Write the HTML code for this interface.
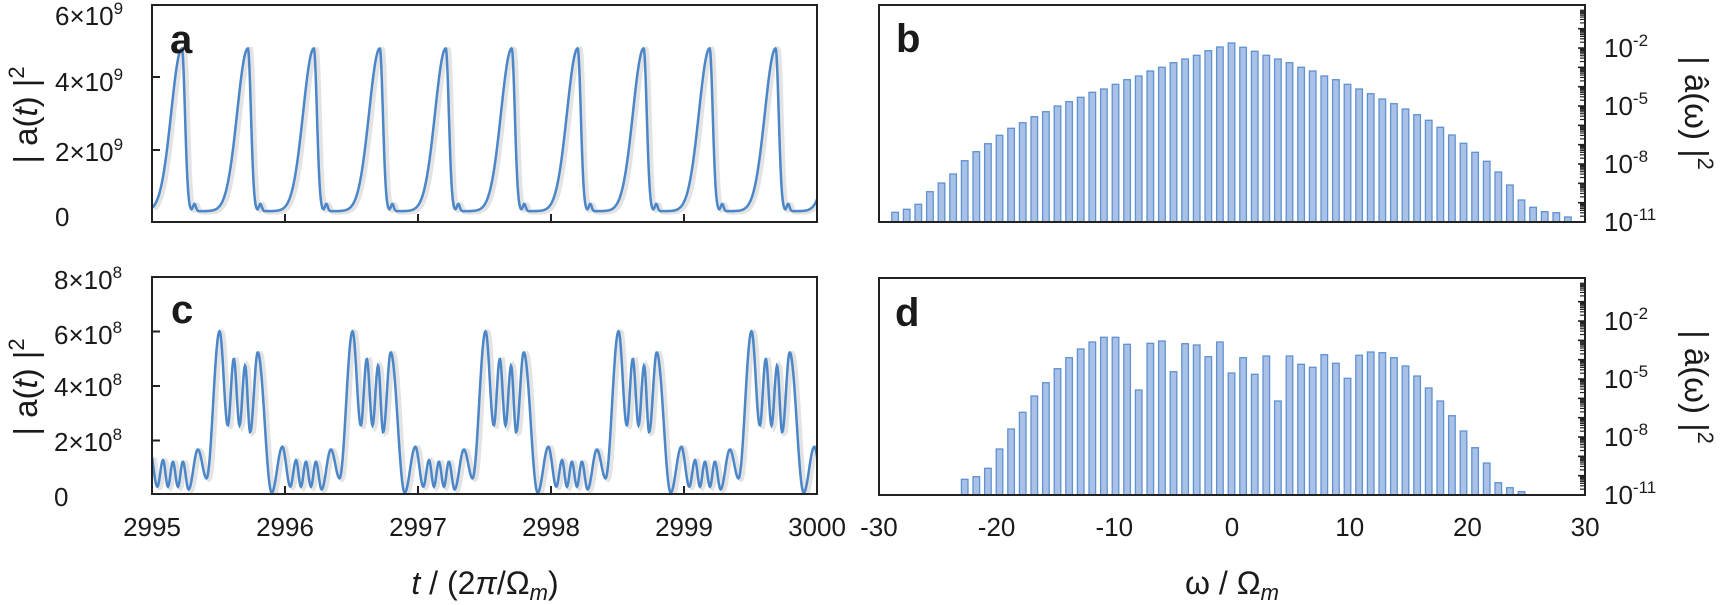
<!DOCTYPE html>
<html><head><meta charset="utf-8"><style>
html,body{margin:0;padding:0;background:#fff;}
svg{display:block;font-family:"Liberation Sans",sans-serif;}
</style></head><body>
<svg id="s" width="1720" height="605" viewBox="0 0 1720 605" xmlns="http://www.w3.org/2000/svg"></svg>
<script>
var S=document.getElementById('s'),h='';
function T(x,y,txt,o){o=o||{};h+='<text x="'+x+'" y="'+y+'" font-size="'+(o.fs||26)+'"'+(o.a?' text-anchor="'+o.a+'"':'')+(o.w?' font-weight="bold"':'')+(o.tr?' transform="'+o.tr+'"':'')+' fill="#1a1a1a">'+txt+'</text>';}
function L(x1,y1,x2,y2,w){h+='<line x1="'+x1+'" y1="'+y1+'" x2="'+x2+'" y2="'+y2+'" stroke="#222" stroke-width="'+(w||2)+'"/>';}
var SUP=function(s){return '<tspan font-size="17" dy="-11">'+s+'</tspan>';};
function va(t){var P=0.496,t0=2995.225;var f=((t-t0)/P)%1;if(f<0)f+=1;var d=f,dr=1-f;
 return 0.3+4.5*Math.max(Math.exp(-Math.pow(dr/0.23,2)),Math.exp(-Math.pow(d/0.065,2)))+0.2*Math.exp(-Math.pow((d-0.19)/0.03,2));}
function path(fn,y0,scale){var p='';for(var i=0;i<=1330;i++){var t=2995+i/266;var x=152+(t-2995)*133;var y=y0-fn(t)*scale;p+=(i?'L':'M')+x.toFixed(1)+' '+y.toFixed(1);}return p;}
var tpl=[[-0.1,0.05],[-0.02,1.74],[0.04,0.27],[0.083,1.25],[0.12,0.27],[0.157,1.19],[0.195,0.27],[0.232,1.19],[0.275,0.17],[0.345,1.64],[0.41,0.58],[0.508,6.0],[0.57,2.53],[0.615,4.98],[0.658,2.53],[0.70,4.73],[0.738,2.28],[0.795,5.22]];
var ex=[];for(var k=-1;k<=6;k++)tpl.forEach(function(p){ex.push([2995+k+p[0],p[1]]);});
function vc(t){for(var i=0;i<ex.length-1;i++){if(t>=ex[i][0]&&t<=ex[i+1][0]){var u=(t-ex[i][0])/(ex[i+1][0]-ex[i][0]);u=(1-Math.cos(Math.PI*u))/2;return ex[i][1]+(ex[i+1][1]-ex[i][1])*u;}}return 0;}
var pa=path(va,222,217/6),pc=path(vc,494,217/8);
h+='<defs><clipPath id="ca"><rect x="152" y="5" width="665" height="217"/></clipPath><clipPath id="cc"><rect x="152" y="277" width="665" height="217"/></clipPath></defs>';
[[pa,'ca'],[pc,'cc']].forEach(function(q){
 h+='<g clip-path="url(#'+q[1]+')"><path d="'+q[0]+'" fill="none" stroke="#c8c8c8" stroke-width="5" opacity="0.5" transform="translate(2.5,1)"/><path d="'+q[0]+'" fill="none" stroke="#4a86c8" stroke-width="2.5"/></g>';});
var bb=[637,628,613,575,549,522,482,455,431,406,385,368,350,335,318,305,292,277,267,253,239,228,213,202,188,177,166,152,141,129,142,154,166,177,188,202,213,228,239,253,267,281,297,311,327,344,361,382,405,430,457,484,516,555,600,622,635,638,651];
bb.forEach(function(v,i){var w=i-29;var y=v/3;var x=1231.5+11.6*w-3.3;h+='<rect x="'+x.toFixed(1)+'" y="'+y.toFixed(1)+'" width="6.6" height="'+(222-y).toFixed(1)+'" fill="#a9c1e6" stroke="#5f92d2" stroke-width="1.3"/>';});
var dd=[718,710,685,627,567,517,468,428,386,353,327,306,292,292,313,450,310,303,395,311,315,350,306,399,353,403,348,483,348,373,382,344,370,415,346,336,338,353,378,408,444,483,527].map(function(z){return 240+z/3;}).concat([431,447.7,463,482.7,487.7,491.7]);
dd.forEach(function(y,i){var w=i-23;var x=1231.5+11.6*w-3.3;h+='<rect x="'+x.toFixed(1)+'" y="'+y.toFixed(1)+'" width="6.6" height="'+(495-y).toFixed(1)+'" fill="#a9c1e6" stroke="#5f92d2" stroke-width="1.3"/>';});
h+='<rect x="152" y="5" width="665" height="217" fill="none" stroke="#222" stroke-width="2"/>';
h+='<rect x="152" y="277" width="665" height="217" fill="none" stroke="#222" stroke-width="2"/>';
h+='<rect x="879" y="5" width="706" height="217" fill="none" stroke="#222" stroke-width="2"/>';
h+='<rect x="879" y="278" width="706" height="217" fill="none" stroke="#222" stroke-width="2"/>';
[77,150].forEach(function(y){L(152,y,160,y);});
[440.5,386,331.5].forEach(function(y){L(152,y,160,y);});
for(var k=1;k<5;k++){var x=152+133*k;L(x,222,x,214);L(x,494,x,486);}
[[222,5],[495,278]].forEach(function(p){var b=p[0];for(var d=0;d<11;d++){var y0=b-d*19.33;L(1585,y0,1578,y0,1.6);for(var m=2;m<10;m++){var y=y0-Math.log10(m)*19.33;if(y>p[1])L(1585,y,1580,y,1.2);}}});
T(55,25,'6×10'+SUP('9'));T(55,91,'4×10'+SUP('9'));T(55,161,'2×10'+SUP('9'));T(55,226,'0');
T(54,289,'8×10'+SUP('8'));T(54,344,'6×10'+SUP('8'));T(54,396,'4×10'+SUP('8'));T(54,451,'2×10'+SUP('8'));T(54,506,'0');
for(var k=0;k<=5;k++)T(152+133*k,536,String(2995+k),{a:'middle'});
for(var k=-3;k<=3;k++)T(879+k*117.7+353,536,String(k*10),{a:'middle'});
[[48,'-2'],[106,'-5'],[164,'-8'],[222,'-11']].forEach(function(p){T(1604,p[0]+9,'10'+SUP(p[1]));T(1604,p[0]+273+9,'10'+SUP(p[1]));});
T(170,53,'a',{fs:40,w:1});T(896,52,'b',{fs:40,w:1});T(171,323,'c',{fs:40,w:1});T(895,326,'d',{fs:40,w:1});
T(0,0,'| a(<tspan font-style="italic">t</tspan>) |<tspan font-size="22" dy="-13">2</tspan>',{fs:33,a:'middle',tr:'translate(37,115) rotate(-90)'});
T(0,0,'| a(<tspan font-style="italic">t</tspan>) |<tspan font-size="22" dy="-13">2</tspan>',{fs:33,a:'middle',tr:'translate(37,387) rotate(-90)'});
T(0,0,'| â(ω) |<tspan font-size="22" dy="-13">2</tspan>',{fs:33,a:'middle',tr:'translate(1685,113) rotate(90)'});
T(0,0,'| â(ω) |<tspan font-size="22" dy="-13">2</tspan>',{fs:33,a:'middle',tr:'translate(1685,387) rotate(90)'});
T(485,594,'<tspan font-style="italic">t</tspan> / (2<tspan font-style="italic">π</tspan>/Ω<tspan font-size="22" dy="6" font-style="italic">m</tspan><tspan dy="-6">)</tspan>',{fs:32,a:'middle'});
T(1232,594,'ω / Ω<tspan font-size="22" dy="6" font-style="italic">m</tspan>',{fs:32,a:'middle'});
S.innerHTML=h;
</script>
</body></html>
